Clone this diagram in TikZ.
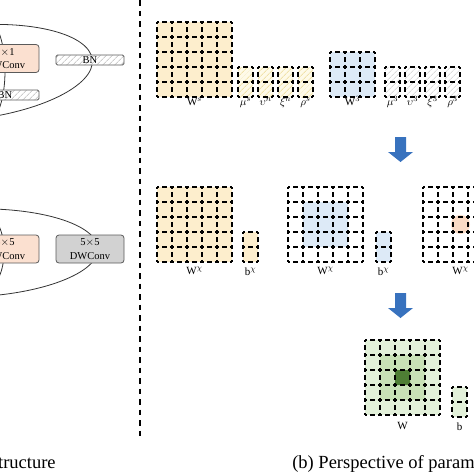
\documentclass[tikz,border=0pt]{standalone}
\usepackage{fontspec}
\setmainfont{Liberation Serif}
\usepackage{tikz}
\usetikzlibrary{patterns.meta}
\definecolor{box_peach}{RGB}{251,224,208}
\definecolor{box_gray}{RGB}{210,210,210}
\definecolor{edge_gray}{RGB}{90,90,90}
\definecolor{hatch_gray}{RGB}{205,205,205}
\definecolor{cell_yell}{RGB}{253,238,205}
\definecolor{hatch_yell}{RGB}{240,226,170}
\definecolor{back_yell}{RGB}{254,250,232}
\definecolor{cell_blue}{RGB}{221,234,247}
\definecolor{cell_orange}{RGB}{250,218,196}
\definecolor{cell_green1}{RGB}{226,240,217}
\definecolor{cell_green2}{RGB}{200,225,182}
\definecolor{cell_green3}{RGB}{78,126,52}
\definecolor{arrow_blue}{RGB}{56,114,190}
\newcommand\dashgrid[4]{%
  \foreach \i in {0,...,#3} \draw[gridline] ({#1+15*\i},#2) -- ++(0,{15*#4});
  \foreach \j in {0,...,#4} \draw[gridline] (#1,{#2+15*\j}) -- ++({15*#3},0);
}
\newcommand\blockarrow[1]{%
  \fill[arrow_blue] (395,#1) -- (406,#1) -- (406,#1+15) -- (413,#1+15) -- (400.5,#1+25)
    -- (388,#1+15) -- (395,#1+15) -- cycle;
}
\begin{document}
\begin{tikzpicture}[x=1pt,y=-1pt,semithick]
    \tikzstyle{gridline}=[line width=1.1pt,dash pattern=on 4.5pt off 3pt,dash phase=2.25pt]
    \tikzstyle{conv}=[draw=edge_gray,line width=0.8pt,rounded corners=3pt,minimum width=68pt,minimum height=28pt,inner sep=0pt,align=center,font=\fontsize{10.5}{13.5}\selectfont]
    \tikzstyle{convpeach}=[style=conv,fill=box_peach]
    \tikzstyle{convgray}=[style=conv,fill=box_gray]
    \tikzstyle{bnbox}=[draw=edge_gray,line width=0.8pt,rounded corners=1.5pt,minimum width=68pt,minimum height=10pt,inner sep=0pt,font=\fontsize{10.5}{12}\selectfont,preaction={fill=white},pattern={Lines[angle=45,distance=4pt,line width=1pt]},pattern color=hatch_gray]
    \tikzstyle{branch}=[draw=black!80,line width=0.8pt]
    \tikzstyle{hatchyell}=[preaction={fill=back_yell},pattern={Lines[angle=45,distance=4pt,line width=0.9pt]},pattern color=hatch_yell]
    \tikzstyle{hatchgray}=[pattern={Lines[angle=45,distance=4pt,line width=0.9pt]},pattern color=hatch_gray!70]
    \tikzstyle{param}=[font=\fontsize{11}{13}\selectfont,anchor=base,inner sep=0pt]
    \tikzstyle{caption}=[font=\fontsize{18.5}{21}\selectfont,anchor=base,inner sep=0pt]

    \useasboundingbox (0,0) rectangle (474,474);
    \clip (0,0) rectangle (474,474);

    % (a) structure
    \draw[branch,shift={(-35,73)},rotate=6] (0,0) ellipse (128 and 47);
    \draw[branch] (-12,71) ellipse (17 and 50);
    \draw[branch,shift={(-30,253)},rotate=2] (0,0) ellipse (128 and 44);
    \draw[branch] (-12,251.5) ellipse (16 and 35);

    \node[convpeach] (dw1)  at (5,58.5)  {1$\times$1\\DWConv};
    \node[bnbox]     (bnA)  at (90,60)   {BN};
    \node[bnbox]     (bnB)  at (5,95)    {BN};
    \node[convpeach] (dw5)  at (5,249)   {5$\times$5\\DWConv};
    \node[convgray]  (dw5b) at (90,249)  {5$\times$5\\DWConv};

    \draw[line width=1.3pt,dash pattern=on 5.5pt off 5pt] (140,0) -- (140,438);
    \node[caption,anchor=base east] (capa) at (56,468) {tructure};

    % (b) perspective
    \fill[cell_yell] (157,22) rectangle ++(75,75);
    \foreach \x in {238,258,278,298} \path[hatchyell] (\x,67) rectangle ++(15,30);
    \fill[cell_blue] (330,52) rectangle ++(45,45);
    \foreach \x in {385,405,425,445} \path[hatchgray] (\x,67) rectangle ++(15,30);
    \dashgrid{157}{22}{5}{5}
    \dashgrid{238}{67}{1}{2}
    \dashgrid{258}{67}{1}{2}
    \dashgrid{278}{67}{1}{2}
    \dashgrid{298}{67}{1}{2}
    \dashgrid{330}{52}{3}{3}
    \dashgrid{385}{67}{1}{2}
    \dashgrid{405}{67}{1}{2}
    \dashgrid{425}{67}{1}{2}
    \dashgrid{445}{67}{1}{2}
    \node[param] (Ws)   at (194.5,105) {W$^{s}$};
    \node[param] (mus)  at (245.5,105) {$\mu^{s}$};
    \node[param] (ups)  at (265.5,105) {$\upsilon^{n}$};
    \node[param] (xis)  at (285.5,105) {$\xi^{n}$};
    \node[param] (rhos) at (305.5,105) {$\rho^{s}$};
    \node[param] (W3)   at (352.5,105) {W$^{3}$};
    \node[param] (mu3)  at (392.5,105) {$\mu^{3}$};
    \node[param] (up3)  at (412.5,105) {$\upsilon^{3}$};
    \node[param] (xi3)  at (432.5,105) {$\xi^{3}$};
    \node[param] (rho3) at (452.5,105) {$\rho^{3}$};

    \blockarrow{137}

    \fill[cell_yell] (157,187) rectangle ++(75,75);
    \fill[cell_yell] (243,232) rectangle ++(15,30);
    \fill[cell_blue] (303,202) rectangle ++(45,45);
    \fill[cell_blue] (376,232) rectangle ++(15,30);
    \fill[cell_orange] (460.5,224.5) circle (9.5);
    \dashgrid{157}{187}{5}{5}
    \dashgrid{243}{232}{1}{2}
    \dashgrid{288}{187}{5}{5}
    \dashgrid{376}{232}{1}{2}
    \dashgrid{423}{187}{5}{5}
    \node[param] (Wx1) at (194.5,274) {W$^{\chi}$};
    \node[param] (bx1) at (250.5,275) {b$^{\chi}$};
    \node[param] (Wx2) at (325.5,274) {W$^{\chi}$};
    \node[param] (bx2) at (383.5,275) {b$^{\chi}$};
    \node[param] (Wx3) at (460.5,274) {W$^{\chi}$};

    \blockarrow{293}

    \fill[cell_green1] (365,340) rectangle ++(75,75);
    \fill[cell_green2] (380,355) rectangle ++(45,45);
    \fill[cell_green3,rounded corners=2pt] (395,370) rectangle ++(15,15);
    \fill[cell_green1] (452,387) rectangle ++(15,30);
    \dashgrid{365}{340}{5}{5}
    \dashgrid{452}{387}{1}{2}
    \node[param] (W) at (402.5,429) {W};
    \node[param] (b) at (459.5,430) {b};

    \node[caption,anchor=base west] (capb) at (292,468) {(b) Perspective of param};
\end{tikzpicture}
\end{document}
